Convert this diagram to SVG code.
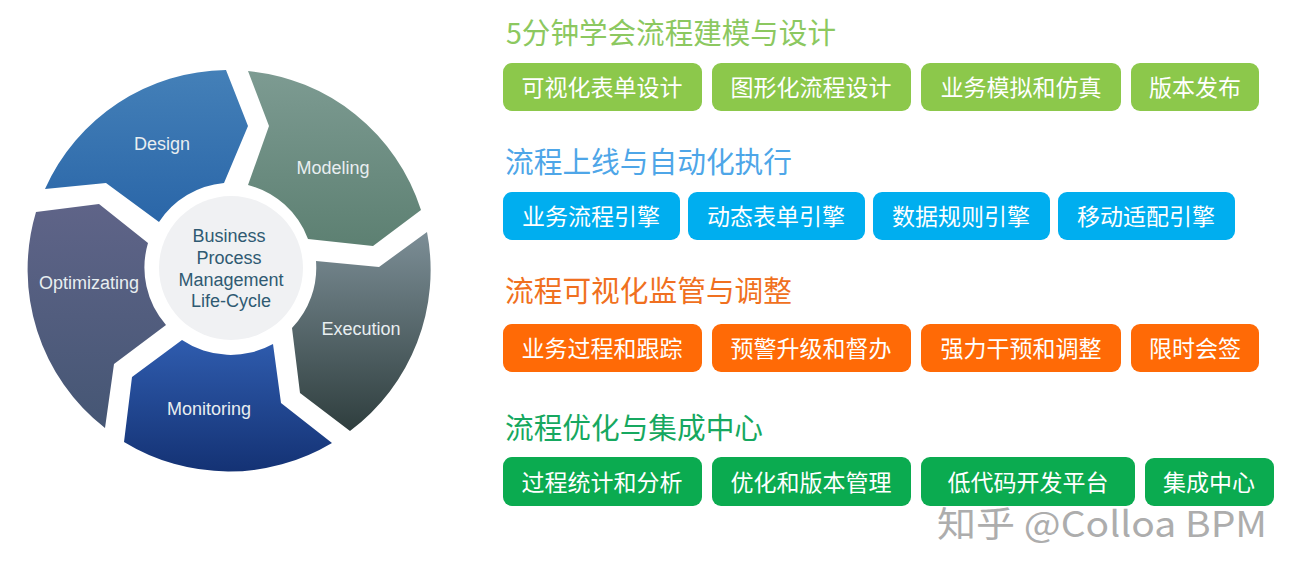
<svg xmlns="http://www.w3.org/2000/svg" width="1300" height="578" viewBox="0 0 1300 578">
<style>
.btn{fill:#fff;font:400 23px "Noto Sans CJK SC","Liberation Sans",sans-serif;text-anchor:middle}
.hd{font:400 29px "Noto Sans CJK SC","Liberation Sans",sans-serif}
.pl{fill:#e8eef0;font:400 18px "Liberation Sans",Arial,sans-serif;text-anchor:middle}
.cl{fill:#2f5a72;font:400 18px "Liberation Sans",Arial,sans-serif;text-anchor:middle}
.g1{fill:#8cc84b}.g2{fill:#00aeef}.g3{fill:#ff6a06}.g4{fill:#0bab50}
</style>
<defs>
<linearGradient id="gd" x1="0" y1="0" x2="0" y2="1"><stop offset="0" stop-color="#4480b8"/><stop offset="1" stop-color="#2a66a8"/></linearGradient>
<linearGradient id="gm" x1="0" y1="0" x2="0" y2="1"><stop offset="0" stop-color="#7d9b92"/><stop offset="1" stop-color="#5d8072"/></linearGradient>
<linearGradient id="ge" x1="0" y1="0" x2="0" y2="1"><stop offset="0" stop-color="#7c8e96"/><stop offset="1" stop-color="#2f3e3e"/></linearGradient>
<linearGradient id="gn" x1="0" y1="0" x2="0" y2="1"><stop offset="0" stop-color="#2f5cae"/><stop offset="1" stop-color="#143274"/></linearGradient>
<linearGradient id="go" x1="0" y1="0" x2="0" y2="1"><stop offset="0" stop-color="#5f6488"/><stop offset="1" stop-color="#455674"/></linearGradient>
</defs>
<rect width="1300" height="578" fill="#fff"/>
<g id="design"><path d="M226 70L248 126L224 183A87 87 0 0 0 159 222L106 183L45 189A201 201 0 0 1 226 70Z" fill="url(#gd)"/><text class="pl" x="162" y="150">Design</text></g>
<g id="modeling"><path d="M248 71A201 201 0 0 1 421 210L373 246L308 239A87 87 0 0 0 248 185L269 126Z" fill="url(#gm)"/><text class="pl" x="333" y="174">Modeling</text></g>
<g id="execution"><path d="M427 232A201 201 0 0 1 350 431L300 393L292 328A87 87 0 0 0 316 261L379 267Z" fill="url(#ge)"/><text class="pl" x="361" y="335">Execution</text></g>
<g id="monitoring"><path d="M332 443A201 201 0 0 1 124 442L132 377L182 340A87 87 0 0 0 273 344L281 403Z" fill="url(#gn)"/><text class="pl" x="209" y="415">Monitoring</text></g>
<g id="optimizing"><path d="M105 428A201 201 0 0 1 36 212L99 204L148 243A87 87 0 0 0 166 325L114 364Z" fill="url(#go)"/><text class="pl" x="89" y="289">Optimizating</text></g>
<g id="center"><circle cx="231" cy="268" r="72" fill="#f0f1f3"/>
<text class="cl" x="229" y="242">Business</text><text class="cl" x="229" y="264">Process</text><text class="cl" x="231" y="286">Management</text><text class="cl" x="231" y="307">Life-Cycle</text></g>

<g id="section-1">
<text class="hd" x="506" y="44" fill="#8cc860" textLength="330" lengthAdjust="spacingAndGlyphs">5分钟学会流程建模与设计</text>
<g id="n1-1"><rect class="g1" x="503" y="63" width="199" height="48" rx="9"/><text class="btn" x="602" y="96">可视化表单设计</text></g>
<g id="n1-2"><rect class="g1" x="712" y="63" width="199" height="48" rx="9"/><text class="btn" x="811" y="96">图形化流程设计</text></g>
<g id="n1-3"><rect class="g1" x="921" y="63" width="200" height="48" rx="9"/><text class="btn" x="1021" y="96">业务模拟和仿真</text></g>
<g id="n1-4"><rect class="g1" x="1131" y="63" width="128" height="48" rx="9"/><text class="btn" x="1195" y="96">版本发布</text></g>
</g>
<g id="section-2">
<text class="hd" x="505" y="173" fill="#4ea6e8" textLength="287" lengthAdjust="spacingAndGlyphs">流程上线与自动化执行</text>
<g id="n2-1"><rect class="g2" x="503" y="192" width="177" height="48" rx="9"/><text class="btn" x="591" y="225">业务流程引擎</text></g>
<g id="n2-2"><rect class="g2" x="688" y="192" width="177" height="48" rx="9"/><text class="btn" x="776" y="225">动态表单引擎</text></g>
<g id="n2-3"><rect class="g2" x="873" y="192" width="177" height="48" rx="9"/><text class="btn" x="961" y="225">数据规则引擎</text></g>
<g id="n2-4"><rect class="g2" x="1058" y="192" width="177" height="48" rx="9"/><text class="btn" x="1146" y="225">移动适配引擎</text></g>
</g>
<g id="section-3">
<text class="hd" x="505" y="302" fill="#f07020" textLength="287" lengthAdjust="spacingAndGlyphs">流程可视化监管与调整</text>
<g id="n3-1"><rect class="g3" x="503" y="324" width="199" height="48" rx="9"/><text class="btn" x="602" y="357">业务过程和跟踪</text></g>
<g id="n3-2"><rect class="g3" x="712" y="324" width="199" height="48" rx="9"/><text class="btn" x="811" y="357">预警升级和督办</text></g>
<g id="n3-3"><rect class="g3" x="921" y="324" width="200" height="48" rx="9"/><text class="btn" x="1021" y="357">强力干预和调整</text></g>
<g id="n3-4"><rect class="g3" x="1131" y="324" width="128" height="48" rx="9"/><text class="btn" x="1195" y="357">限时会签</text></g>
</g>
<g id="section-4">
<text class="hd" x="505" y="439" fill="#16a860" textLength="258" lengthAdjust="spacingAndGlyphs">流程优化与集成中心</text>
<g id="n4-1"><rect class="g4" x="503" y="457" width="199" height="49" rx="9"/><text class="btn" x="602" y="491">过程统计和分析</text></g>
<g id="n4-2"><rect class="g4" x="712" y="457" width="199" height="49" rx="9"/><text class="btn" x="811" y="491">优化和版本管理</text></g>
<g id="n4-3"><rect class="g4" x="921" y="457" width="214" height="49" rx="9"/><text class="btn" x="1028" y="491">低代码开发平台</text></g>
<g id="n4-4"><rect class="g4" x="1145" y="458" width="129" height="48" rx="9"/><text class="btn" x="1209" y="491">集成中心</text></g>
</g>
<text id="watermark" x="937" y="537" fill="#adadad" font-family="'Noto Sans CJK SC','Liberation Sans',sans-serif" font-size="35" font-weight="400" textLength="330" lengthAdjust="spacingAndGlyphs">知乎 @Colloa BPM</text>
</svg>
